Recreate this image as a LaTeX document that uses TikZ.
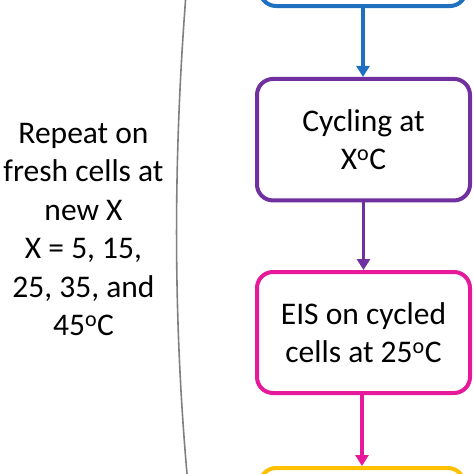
\documentclass[tikz,border=0pt]{standalone}
\usepackage{fontspec}
\setmainfont{Carlito}
\usetikzlibrary{arrows.meta}
\definecolor{cblue}{HTML}{1F70C1}
\definecolor{cpurple}{HTML}{7030A0}
\definecolor{cpink}{HTML}{E6199B}
\definecolor{cyellow}{HTML}{FFC000}
\definecolor{cgray}{HTML}{808080}
\tikzset{
  stagebox/.style={draw, line width=4pt, rounded corners=16pt, align=center,
    minimum width=213pt, minimum height=121.5pt, inner sep=0pt,
    font=\fontsize{31.5}{38.5}\selectfont},
  flowarrow/.style={line width=3.2pt, -{Triangle[width=13pt,length=11pt]}},
  sidetext/.style={align=center, inner sep=0pt, font=\fontsize{31.5}{38.5}\selectfont}
}
\begin{document}
\begin{tikzpicture}[x=1pt,y=-1pt]
\useasboundingbox (0,0) rectangle (474,474);
\clip (0,0) rectangle (474,474);
\fill[white] (0,0) rectangle (474,474);
\node[stagebox, draw=cblue, minimum width=206pt, minimum height=120pt] (prep) at (363,-54) {};
\node[stagebox, draw=cpurple] (cyc) at (363.5,139.7) {Cycling at\\X\textsuperscript{o}C};
\node[stagebox, draw=cpink, minimum height=121pt] (eis) at (363.5,332.5) {EIS on cycled\\cells at 25\textsuperscript{o}C};
\node[stagebox, draw=cyellow, minimum width=204pt, minimum height=120pt] (fin) at (362,528) {};
\draw[flowarrow, cblue] (prep.south) -- (prep.south |- cyc.north);
\draw[flowarrow, cpurple] (cyc.south) -- (cyc.south |- eis.north);
\draw[flowarrow, cpink] (eis.south -| 362,0) coordinate (pk) -- (pk |- fin.north);
\node[sidetext] (rep) at (83.5,229.5) {Repeat on\\fresh cells at\\new X\\X = 5, 15,\\25, 35, and\\45\textsuperscript{o}C};
\coordinate (ctop) at (185.7,-2);
\coordinate (cbot) at (187.2,476);
\draw[cgray, line width=1.6pt] (ctop) .. controls (173.5,158) and (173,316) .. (cbot);
\end{tikzpicture}
\end{document}
